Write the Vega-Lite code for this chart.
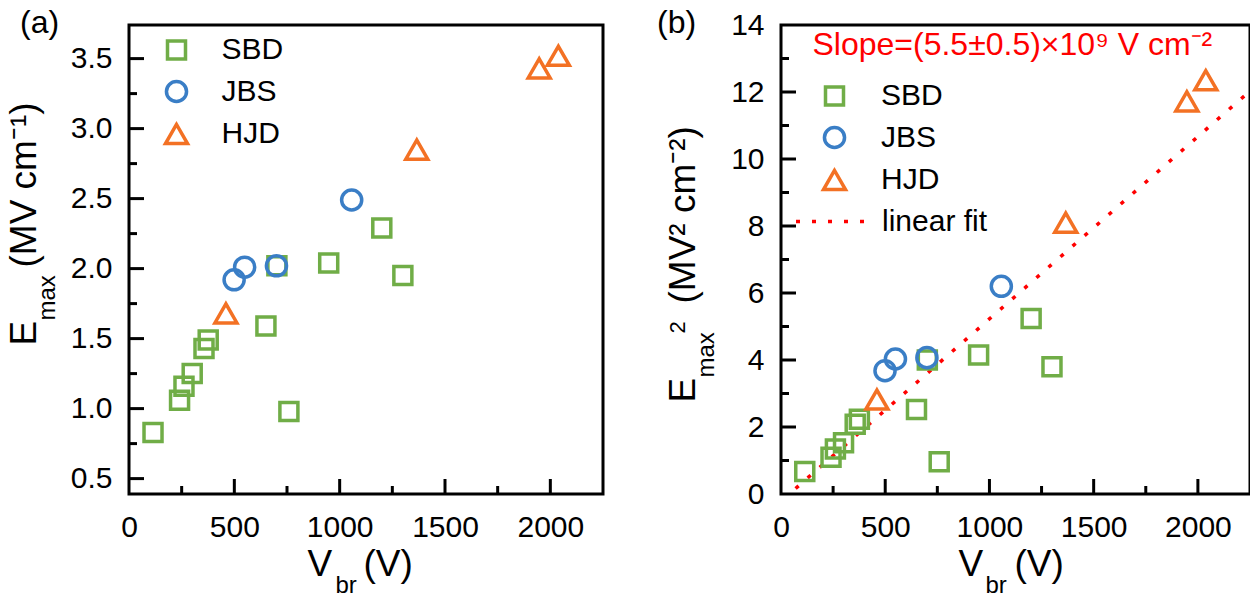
{
  "$schema": "https://vega.github.io/schema/vega-lite/v6.json",
  "padding": {"left": 3, "top": 5, "right": 0, "bottom": 0},
  "background": "white",
  "bounds": "flush",
  "spacing": 178,
  "resolve": {"scale": {"color": "independent", "shape": "independent", "size": "independent", "strokeDash": "independent"}},
  "datasets": {
    "pts": [
      {"type": "SBD", "V": 114, "E": 0.83, "E2": 0.67},
      {"type": "SBD", "V": 240, "E": 1.06, "E2": 1.10},
      {"type": "SBD", "V": 261, "E": 1.16, "E2": 1.34},
      {"type": "SBD", "V": 300, "E": 1.25, "E2": 1.53},
      {"type": "SBD", "V": 356, "E": 1.43, "E2": 2.08},
      {"type": "SBD", "V": 376, "E": 1.49, "E2": 2.23},
      {"type": "SBD", "V": 650, "E": 1.59, "E2": 2.52},
      {"type": "SBD", "V": 759, "E": 0.98, "E2": 0.96},
      {"type": "SBD", "V": 702, "E": 2.02, "E2": 4.0},
      {"type": "SBD", "V": 948, "E": 2.04, "E2": 4.15},
      {"type": "SBD", "V": 1200, "E": 2.29, "E2": 5.24},
      {"type": "SBD", "V": 1300, "E": 1.95, "E2": 3.8},
      {"type": "JBS", "V": 499, "E": 1.92, "E2": 3.68},
      {"type": "JBS", "V": 549, "E": 2.01, "E2": 4.03},
      {"type": "JBS", "V": 700, "E": 2.02, "E2": 4.07},
      {"type": "JBS", "V": 1057, "E": 2.49, "E2": 6.2},
      {"type": "HJD", "V": 460, "E": 1.68, "E2": 2.82},
      {"type": "HJD", "V": 1366, "E": 2.85, "E2": 8.1},
      {"type": "HJD", "V": 1947, "E": 3.43, "E2": 11.72},
      {"type": "HJD", "V": 2038, "E": 3.52, "E2": 12.35}
    ],
    "fit": [
      {"V": 70, "E2": 0.165, "fit": "linear fit"},
      {"V": 2250, "E2": 12.03, "fit": "linear fit"}
    ],
    "xMajor": [{"v": 500}, {"v": 1000}, {"v": 1500}, {"v": 2000}],
    "xMinor": [{"v": 250}, {"v": 750}, {"v": 1250}, {"v": 1750}],
    "yMajorA": [{"v": 0.5}, {"v": 1.0}, {"v": 1.5}, {"v": 2.0}, {"v": 2.5}, {"v": 3.0}, {"v": 3.5}],
    "yMinorA": [{"v": 0.75}, {"v": 1.25}, {"v": 1.75}, {"v": 2.25}, {"v": 2.75}, {"v": 3.25}],
    "yMajorB": [{"v": 2}, {"v": 4}, {"v": 6}, {"v": 8}, {"v": 10}, {"v": 12}],
    "yMinorB": [{"v": 1}, {"v": 3}, {"v": 5}, {"v": 7}, {"v": 9}, {"v": 11}, {"v": 13}]
  },
  "hconcat": [
    {
      "width": 474,
      "height": 469,
      "title": {"text": "(a)", "dx": -109, "offset": -15.4},
      "data": {"name": "pts"},
      "layer": [
        {
          "mark": {"type": "point", "filled": false, "strokeWidth": 3.5, "opacity": 1},
          "encoding": {
            "x": {"field": "V", "type": "quantitative",
              "scale": {"domain": [0, 2250], "nice": false, "zero": false},
              "axis": {"orient": "bottom", "values": [0, 500, 1000, 1500, 2000], "format": "d", "ticks": false, "labelPadding": 18,
                "title": "V", "titleX": 178, "titleY": 81, "titleAlign": "left", "titleBaseline": "alphabetic", "titleAngle": 0}},
            "y": {"field": "E", "type": "quantitative",
              "scale": {"domain": [0.39, 3.74], "nice": false, "zero": false},
              "axis": {"orient": "left", "values": [0.5, 1, 1.5, 2, 2.5, 3, 3.5], "format": ".1f", "ticks": false, "labelPadding": 17,
                "title": "E", "titleX": -94, "titleY": 320, "titleAlign": "left", "titleBaseline": "alphabetic", "titleAngle": 270}},
            "color": {"field": "type", "type": "nominal",
              "scale": {"domain": ["SBD", "JBS", "HJD"], "range": ["#70ad47", "#3a7ec6", "#f37124"]},
              "legend": {"title": null, "orient": "none", "legendX": 32.5, "legendY": 10, "labelOffset": 30, "rowPadding": 7.5}},
            "shape": {"field": "type", "type": "nominal",
              "scale": {"domain": ["SBD", "JBS", "HJD"], "range": ["square", "circle", "triangle-up"]}},
            "size": {"field": "type", "type": "nominal",
              "scale": {"domain": ["SBD", "JBS", "HJD"], "range": [324, 484, 625]}}
          }
        },
        {
          "mark": {"type": "point", "opacity": 0},
          "encoding": {
            "x": {"field": "V", "type": "quantitative",
              "axis": {"orient": "bottom", "ticks": false, "labels": false,
                "title": "br", "titleFontSize": 24, "titleX": 206, "titleY": 98, "titleAlign": "left", "titleBaseline": "alphabetic", "titleAngle": 0}},
            "y": {"field": "E", "type": "quantitative",
              "axis": {"orient": "left", "ticks": false, "labels": false,
                "title": "max", "titleFontSize": 24, "titleX": -74.5, "titleY": 295, "titleAlign": "left", "titleBaseline": "alphabetic", "titleAngle": 270}}
          }
        },
        {
          "mark": {"type": "point", "opacity": 0},
          "encoding": {
            "x": {"field": "V", "type": "quantitative",
              "axis": {"orient": "bottom", "ticks": false, "labels": false,
                "title": "(V)", "titleX": 234, "titleY": 81, "titleAlign": "left", "titleBaseline": "alphabetic", "titleAngle": 0}},
            "y": {"field": "E", "type": "quantitative",
              "axis": {"orient": "left", "ticks": false, "labels": false,
                "title": "(MV cm\u207b\u00b9)", "titleX": -94, "titleY": 242, "titleAlign": "left", "titleBaseline": "alphabetic", "titleAngle": 270}}
          }
        },
        {
          "data": {"name": "xMajor"},
          "mark": {"type": "tick", "orient": "vertical", "size": 15, "thickness": 3, "color": "#000000", "opacity": 1, "yOffset": -7.5},
          "encoding": {
            "x": {"field": "v", "type": "quantitative", "axis": null},
            "y": {"datum": 0.39, "type": "quantitative", "axis": null}
          }
        },
        {
          "data": {"name": "xMinor"},
          "mark": {"type": "tick", "orient": "vertical", "size": 8, "thickness": 3, "color": "#000000", "opacity": 1, "yOffset": -4},
          "encoding": {
            "x": {"field": "v", "type": "quantitative", "axis": null},
            "y": {"datum": 0.39, "type": "quantitative", "axis": null}
          }
        },
        {
          "data": {"name": "yMajorA"},
          "mark": {"type": "tick", "orient": "horizontal", "size": 15, "thickness": 3, "color": "#000000", "opacity": 1, "xOffset": 7.5},
          "encoding": {
            "y": {"field": "v", "type": "quantitative", "axis": null},
            "x": {"datum": 0, "type": "quantitative", "axis": null}
          }
        },
        {
          "data": {"name": "yMinorA"},
          "mark": {"type": "tick", "orient": "horizontal", "size": 8, "thickness": 3, "color": "#000000", "opacity": 1, "xOffset": 4},
          "encoding": {
            "y": {"field": "v", "type": "quantitative", "axis": null},
            "x": {"datum": 0, "type": "quantitative", "axis": null}
          }
        }
      ],
      "resolve": {"axis": {"x": "independent", "y": "independent"}}
    },
    {
      "width": 469,
      "height": 469,
      "title": {"text": "(b)", "dx": -124, "offset": -30.4},
      "layer": [
        {
          "data": {"name": "fit"},
          "mark": {"type": "line", "color": "#ff0000", "strokeWidth": 3.5, "strokeCap": "butt", "clip": true},
          "encoding": {
            "x": {"field": "V", "type": "quantitative", "scale": {"domain": [0, 2250], "nice": false, "zero": false},
              "axis": {"orient": "bottom", "ticks": false, "labels": false,
                "title": "(V)", "titleX": 233, "titleY": 81, "titleAlign": "left", "titleBaseline": "alphabetic", "titleAngle": 0}},
            "y": {"field": "E2", "type": "quantitative", "scale": {"domain": [0, 14], "nice": false, "zero": false},
              "axis": {"orient": "left", "ticks": false, "labels": false,
                "title": "2", "titleFontSize": 22, "titleX": -97, "titleY": 308, "titleAlign": "left", "titleBaseline": "alphabetic", "titleAngle": 270}},
            "strokeDash": {"field": "fit", "type": "nominal",
              "scale": {"domain": ["linear fit"], "range": [[4, 12]]},
              "legend": {"title": null, "orient": "none", "legendX": 13, "legendY": 157, "symbolSize": 5625, "labelOffset": 9,
                "symbolStrokeColor": "#ff0000", "symbolStrokeWidth": 3.5, "symbolType": "stroke",
                "encode": {"symbols": {"update": {"strokeDash": {"value": [7, 6]}, "stroke": {"value": "#ff0000"}}}}}}
          }
        },
        {
          "data": {"name": "pts"},
          "mark": {"type": "point", "filled": false, "strokeWidth": 3.5, "opacity": 1},
          "encoding": {
            "x": {"field": "V", "type": "quantitative",
              "axis": {"orient": "bottom", "values": [0, 500, 1000, 1500, 2000], "format": "d", "ticks": false, "labelPadding": 18,
                "title": "V", "titleX": 177, "titleY": 81, "titleAlign": "left", "titleBaseline": "alphabetic", "titleAngle": 0}},
            "y": {"field": "E2", "type": "quantitative",
              "axis": {"orient": "left", "values": [0, 2, 4, 6, 8, 10, 12, 14], "ticks": false, "labelPadding": 17,
                "title": "E", "titleX": -87, "titleY": 377, "titleAlign": "left", "titleBaseline": "alphabetic", "titleAngle": 270}},
            "color": {"field": "type", "type": "nominal",
              "scale": {"domain": ["SBD", "JBS", "HJD"], "range": ["#70ad47", "#3a7ec6", "#f37124"]},
              "legend": {"title": null, "orient": "none", "legendX": 38.5, "legendY": 56, "labelOffset": 31.5, "rowPadding": 7.5}},
            "shape": {"field": "type", "type": "nominal",
              "scale": {"domain": ["SBD", "JBS", "HJD"], "range": ["square", "circle", "triangle-up"]}},
            "size": {"field": "type", "type": "nominal",
              "scale": {"domain": ["SBD", "JBS", "HJD"], "range": [324, 484, 625]}}
          }
        },
        {
          "data": {"name": "pts"},
          "mark": {"type": "point", "opacity": 0},
          "encoding": {
            "x": {"field": "V", "type": "quantitative",
              "axis": {"orient": "bottom", "ticks": false, "labels": false,
                "title": "br", "titleFontSize": 24, "titleX": 204, "titleY": 98, "titleAlign": "left", "titleBaseline": "alphabetic", "titleAngle": 0}},
            "y": {"field": "E2", "type": "quantitative",
              "axis": {"orient": "left", "ticks": false, "labels": false,
                "title": "max", "titleFontSize": 24, "titleX": -68, "titleY": 352, "titleAlign": "left", "titleBaseline": "alphabetic", "titleAngle": 270}}
          }
        },
        {
          "data": {"values": [{}]},
          "mark": {"type": "text", "text": "Slope=(5.5\u00b10.5)\u00d710\u2079 V cm\u207b\u00b2", "color": "#ff0000", "fontSize": 32, "align": "center", "baseline": "alphabetic", "font": "Liberation Sans"},
          "encoding": {
            "x": {"datum": 1110, "type": "quantitative", "axis": null},
            "y": {"datum": 13.1, "type": "quantitative",
              "axis": {"orient": "left", "ticks": false, "labels": false,
                "title": "(MV\u00b2 cm\u207b\u00b2)", "titleX": -87, "titleY": 278, "titleAlign": "left", "titleBaseline": "alphabetic", "titleAngle": 270}}
          }
        },
        {
          "data": {"name": "xMajor"},
          "mark": {"type": "tick", "orient": "vertical", "size": 15, "thickness": 3, "color": "#000000", "opacity": 1, "yOffset": -7.5},
          "encoding": {
            "x": {"field": "v", "type": "quantitative", "axis": null},
            "y": {"datum": 0, "type": "quantitative", "axis": null}
          }
        },
        {
          "data": {"name": "xMinor"},
          "mark": {"type": "tick", "orient": "vertical", "size": 8, "thickness": 3, "color": "#000000", "opacity": 1, "yOffset": -4},
          "encoding": {
            "x": {"field": "v", "type": "quantitative", "axis": null},
            "y": {"datum": 0, "type": "quantitative", "axis": null}
          }
        },
        {
          "data": {"name": "yMajorB"},
          "mark": {"type": "tick", "orient": "horizontal", "size": 15, "thickness": 3, "color": "#000000", "opacity": 1, "xOffset": 7.5},
          "encoding": {
            "y": {"field": "v", "type": "quantitative", "axis": null},
            "x": {"datum": 0, "type": "quantitative", "axis": null}
          }
        },
        {
          "data": {"name": "yMinorB"},
          "mark": {"type": "tick", "orient": "horizontal", "size": 8, "thickness": 3, "color": "#000000", "opacity": 1, "xOffset": 4},
          "encoding": {
            "y": {"field": "v", "type": "quantitative", "axis": null},
            "x": {"datum": 0, "type": "quantitative", "axis": null}
          }
        }
      ],
      "resolve": {"axis": {"x": "independent", "y": "independent"}}
    }
  ],
  "config": {
    "font": "Liberation Sans",
    "view": {"stroke": "black", "strokeWidth": 3},
    "axis": {"grid": false, "domain": false,
      "labelFont": "Liberation Sans", "labelFontSize": 30, "labelColor": "black", "labelFlush": false, "labelOverlap": false,
      "titleFont": "Liberation Sans", "titleFontSize": 37, "titleColor": "black", "titleFontWeight": "normal"},
    "legend": {"labelFont": "Liberation Sans", "labelFontSize": 30, "labelColor": "black", "padding": 0, "titlePadding": 0,
      "symbolStrokeWidth": 3.5, "labelLimit": 400},
    "title": {"font": "Liberation Sans", "fontSize": 32, "fontWeight": "normal", "anchor": "start", "frame": "group", "baseline": "alphabetic", "color": "black"}
  }
}
